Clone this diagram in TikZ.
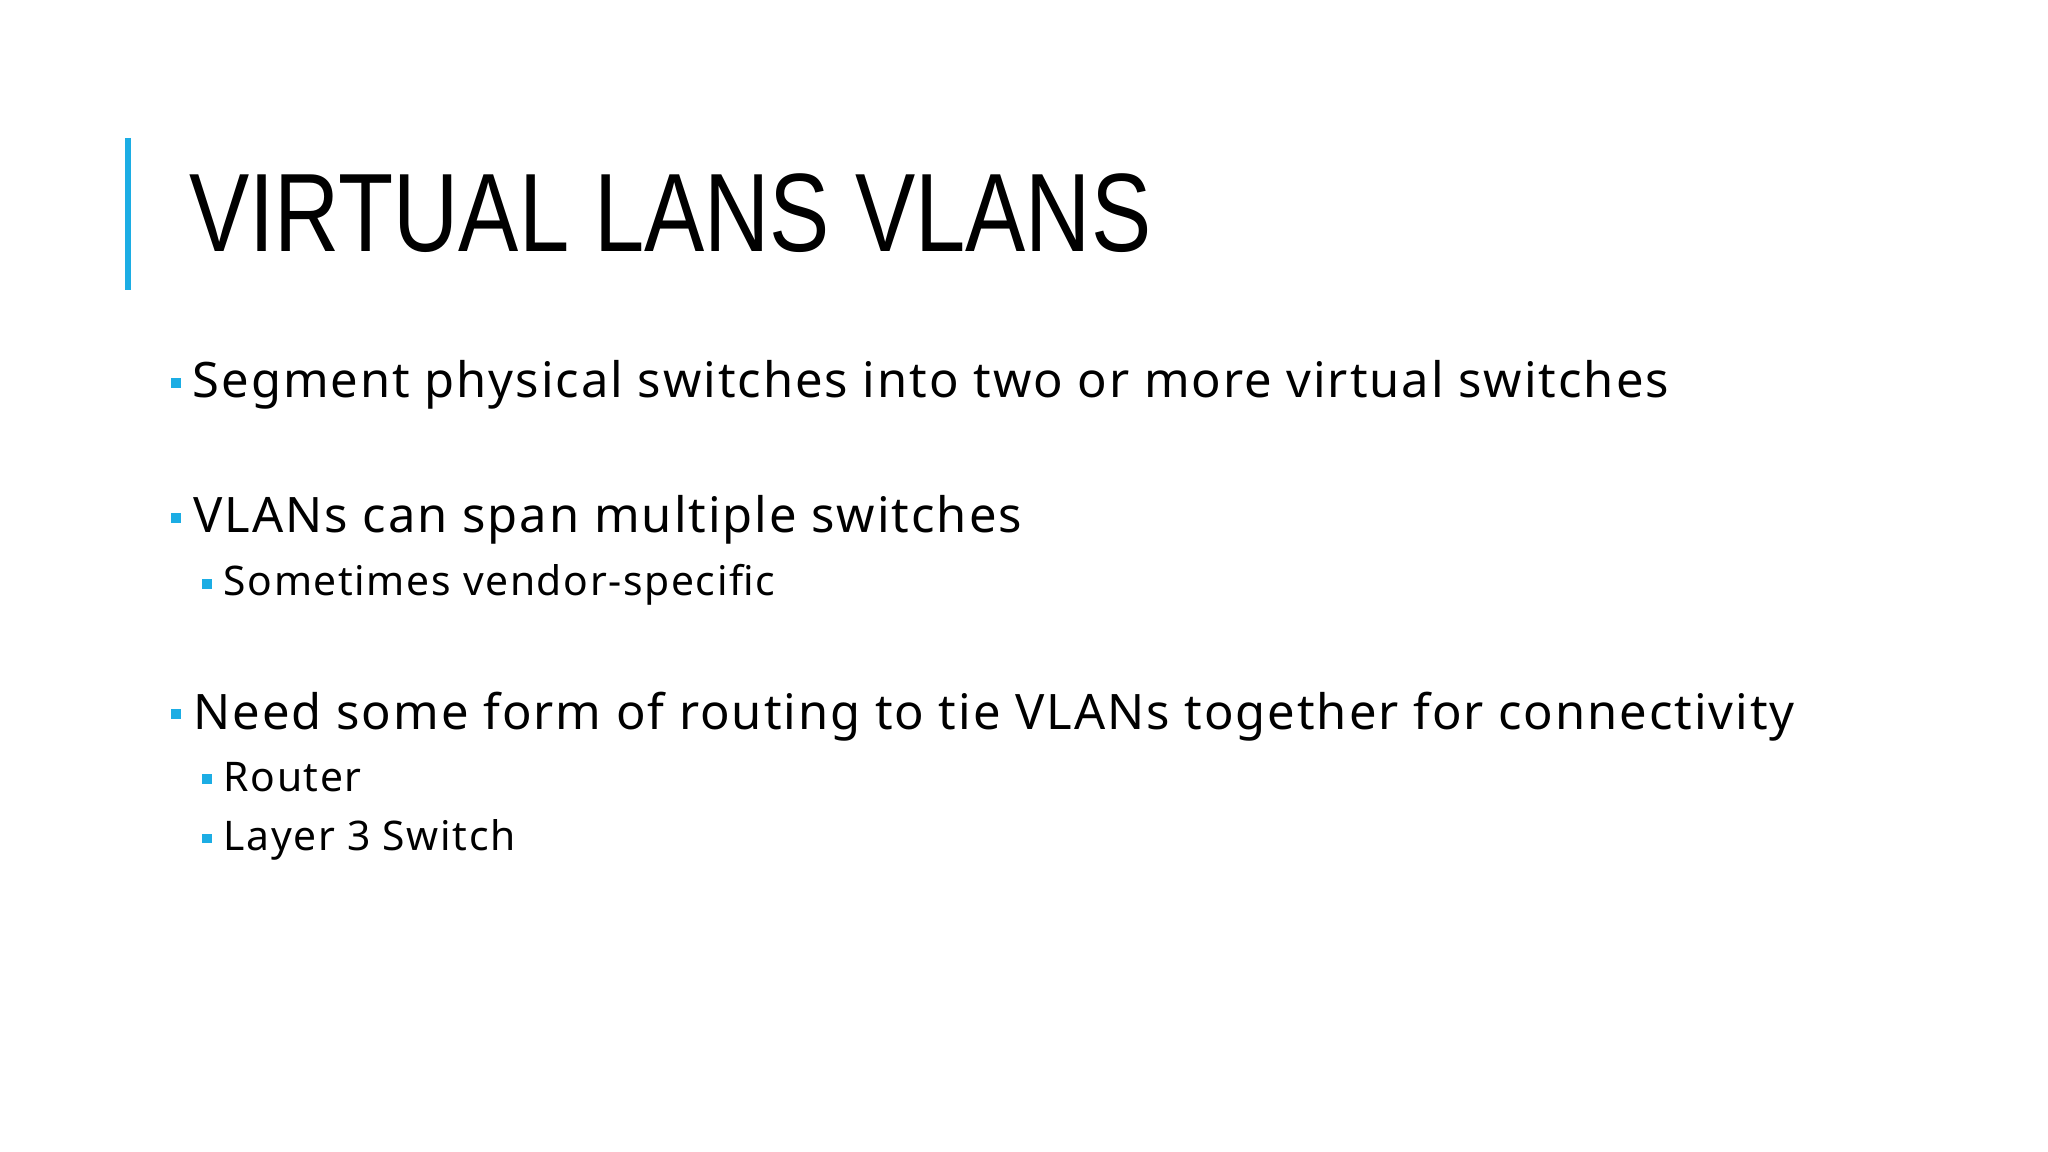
\documentclass[tikz,border=0pt]{standalone}
\usepackage{fontspec}
\setmainfont{Noto Sans}[LetterSpace=4]
\newfontfamily\titlefont{Liberation Sans}
\definecolor{accent}{HTML}{1CADE4}
\begin{document}
\begin{tikzpicture}[x=0.01cm,y=-0.01cm,
  lvl1/.style={anchor=base west,inner sep=0,font=\fontsize{13.9pt}{16pt}\selectfont},
  lvl2/.style={anchor=base west,inner sep=0,font=\fontsize{11.6pt}{13pt}\selectfont},
  sq1/.style={fill=accent,minimum size=0.1cm,inner sep=0},
  sq2/.style={fill=accent,minimum size=0.09cm,inner sep=0}]
\useasboundingbox (0,0) rectangle (2048,1152);
\draw[accent,line width=1.6pt] (128,138) -- (128,290);
\node[anchor=base west,inner sep=0,font=\titlefont\fontsize{31.7pt}{34pt}\selectfont,xscale=0.81] (title) at (189,252) {VIRTUAL LANS VLANS};
\node[lvl1] (b1) at (192,398) {Segment physical switches into two or more virtual switches};
\node[sq1] (s1) at (176,383) {};
\node[lvl1] (b2) at (193,533) {VLANs can span multiple switches};
\node[sq1] (s2) at (176,518) {};
\node[lvl2] (c1) at (223,596) {Sometimes vendor-specific};
\node[sq2] (t1) at (207,584) {};
\node[lvl1] (b3) at (193,729) {Need some form of routing to tie VLANs together for connectivity};
\node[sq1] (s3) at (176,714) {};
\node[lvl2] (c2) at (223,791) {Router};
\node[sq2] (t2) at (207,779) {};
\node[lvl2] (c3) at (223,850) {Layer 3 Switch};
\node[sq2] (t3) at (207,838) {};
\end{tikzpicture}
\end{document}
